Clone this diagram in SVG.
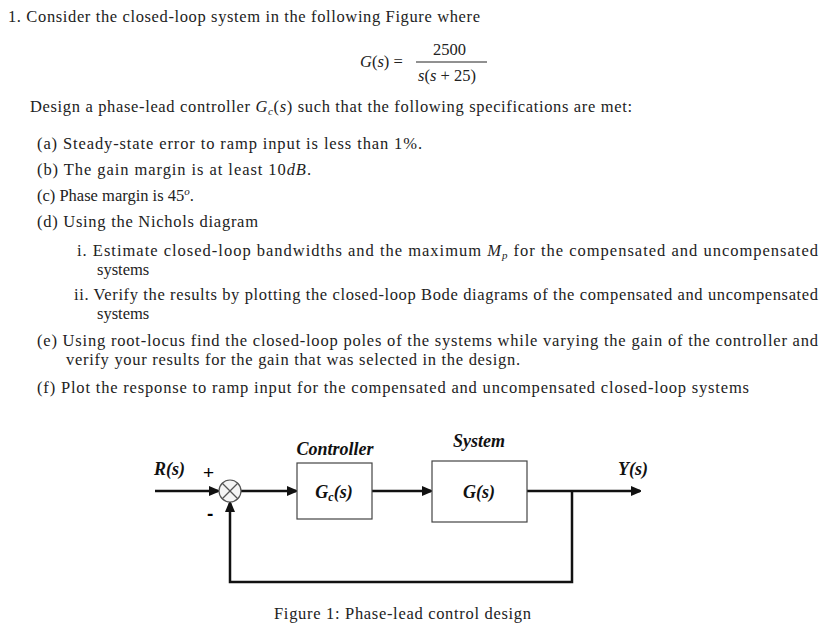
<svg xmlns="http://www.w3.org/2000/svg" width="833" height="631" viewBox="0 0 833 631">
<style>
.t{font-family:"Liberation Serif",serif;font-size:16.5px;fill:#222}
.i{font-style:italic}
.b{font-family:"Liberation Serif",serif;font-weight:bold;font-style:italic;font-size:18px;fill:#111}
.ln{stroke:#111;stroke-width:2.5;fill:none}
.box{fill:#fff;stroke:#444;stroke-width:1.2}
</style>
<defs><marker id="a" markerWidth="10" markerHeight="10" refX="9" refY="5" orient="auto" markerUnits="userSpaceOnUse"><path d="M0,0 L12,5 L0,10 Z" fill="#111"/></marker></defs>
<rect width="833" height="631" fill="#fff"/>
<g id="text">
<text class="t" x="8" y="22" textLength="472">1.  Consider the closed-loop system in the following Figure where</text>
<text class="t" x="360" y="67"><tspan class="i">G</tspan>(<tspan class="i">s</tspan>) =</text>
<text class="t" x="433" y="55">2500</text>
<line x1="416" y1="62" x2="487" y2="62" stroke="#222" stroke-width="1"/>
<text class="t" x="418" y="81"><tspan class="i">s</tspan>(<tspan class="i">s</tspan> + 25)</text>
<text class="t" x="30" y="112" textLength="602">Design a phase-lead controller <tspan class="i">G</tspan><tspan class="i" font-size="11" dy="3">c</tspan><tspan dy="-3">(</tspan><tspan class="i">s</tspan>) such that the following specifications are met:</text>
<text class="t" x="37" y="149" textLength="385">(a)  Steady-state error to ramp input is less than 1%.</text>
<text class="t" x="37" y="175" textLength="274">(b)  The gain margin is at least 10<tspan class="i">dB</tspan>.</text>
<text class="t" x="37" y="201">(c)  Phase margin is 45<tspan font-size="11" dy="-6" class="i">o</tspan><tspan dy="6">.</tspan></text>
<text class="t" x="37" y="227" textLength="221">(d)  Using the Nichols diagram</text>
<text class="t" x="77" y="256" textLength="741">i.  Estimate closed-loop bandwidths and the maximum <tspan class="i">M</tspan><tspan class="i" font-size="11" dy="3">p</tspan><tspan dy="-3"> for the compensated and uncompensated</tspan></text>
<text class="t" x="97" y="275">systems</text>
<text class="t" x="74" y="300" textLength="744">ii.  Verify the results by plotting the closed-loop Bode diagrams of the compensated and uncompensated</text>
<text class="t" x="97" y="319">systems</text>
<text class="t" x="37" y="346" textLength="781">(e)  Using root-locus find the closed-loop poles of the systems while varying the gain of the controller and</text>
<text class="t" x="66" y="365" textLength="454">verify your results for the gain that was selected in the design.</text>
<text class="t" x="37" y="393" textLength="712">(f)  Plot the response to ramp input for the compensated and uncompensated closed-loop systems</text>
<text class="t" x="274" y="619" textLength="257">Figure 1:  Phase-lead control design</text>
</g>
<g id="connectors">
<line class="ln" x1="155" y1="491" x2="218" y2="491" marker-end="url(#a)"/>
<line class="ln" x1="241" y1="491" x2="296" y2="491" marker-end="url(#a)"/>
<line class="ln" x1="372" y1="491" x2="431" y2="491" marker-end="url(#a)"/>
<line class="ln" x1="527" y1="491" x2="640" y2="491" marker-end="url(#a)"/>
<polyline class="ln" points="572,491 572,582 230,582 230,503" marker-end="url(#a)"/>
</g>
<g id="sum">
<circle cx="230" cy="491" r="11" fill="#f4f4f4" stroke="#555" stroke-width="1.2"/>
<line x1="222" y1="483" x2="238" y2="499" stroke="#555" stroke-width="1.2"/>
<line x1="238" y1="483" x2="222" y2="499" stroke="#555" stroke-width="1.2"/>
<text x="203" y="479" font-family="Liberation Sans,sans-serif" font-size="19">+</text>
<text x="207" y="520" font-family="Liberation Sans,sans-serif" font-size="19" font-weight="bold">-</text>
</g>
<g id="controller">
<rect class="box" x="297" y="463" width="75" height="56"/>
<text class="b" x="334" y="498" text-anchor="middle">G<tspan font-size="12" dy="3">c</tspan><tspan dy="-3">(s)</tspan></text>
<text class="b" x="335" y="455" text-anchor="middle" font-size="16">Controller</text>
</g>
<g id="system">
<rect class="box" x="432" y="461" width="95" height="61"/>
<text class="b" x="479" y="498" text-anchor="middle">G(s)</text>
<text class="b" x="479" y="447" text-anchor="middle" font-size="16">System</text>
</g>
<text class="b" x="154" y="475">R(s)</text>
<text class="b" x="618" y="475">Y(s)</text>
</svg>
